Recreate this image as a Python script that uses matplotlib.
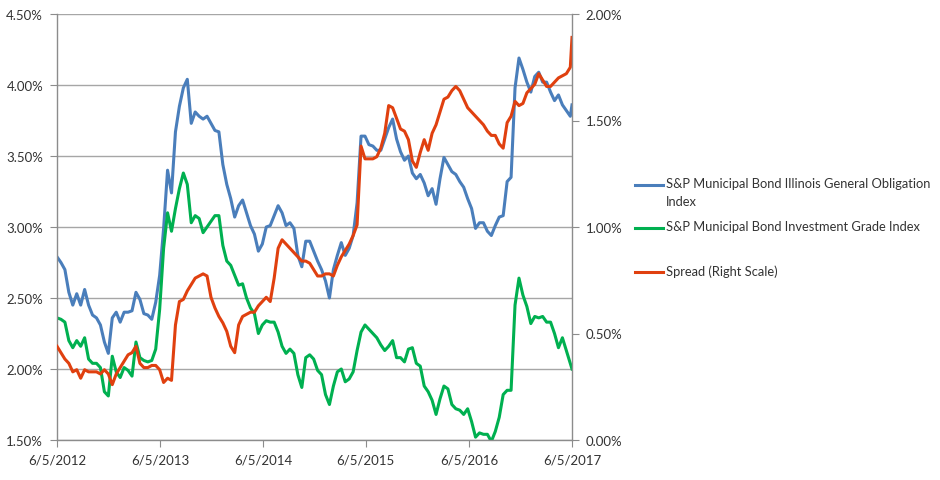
import pandas as pd
import matplotlib
matplotlib.use("Agg")
import matplotlib.pyplot as plt
from matplotlib.lines import Line2D
from matplotlib.ticker import FuncFormatter

plt.rcParams['font.family'] = ['Lato', 'DejaVu Sans']

# readings every two weeks from 6/5/2012, last value on 6/5/2017
start_date = "2012-06-05"
end_date = "2017-06-05"

illinois_go = [
    2.79, 2.75, 2.70, 2.54, 2.45, 2.53, 2.45, 2.56, 2.45, 2.38,
    2.36, 2.31, 2.19, 2.11, 2.36, 2.40, 2.33, 2.40, 2.40, 2.41,
    2.54, 2.49, 2.39, 2.38, 2.35, 2.47, 2.66, 2.99, 3.40, 3.24,
    3.67, 3.85, 3.98, 4.04, 3.73, 3.81, 3.78, 3.76, 3.78, 3.73,
    3.68, 3.67, 3.44, 3.30, 3.20, 3.07, 3.15, 3.19, 3.10, 3.01,
    2.95, 2.83, 2.88, 3.00, 3.01, 3.08, 3.15, 3.10, 3.01, 3.03,
    2.99, 2.80, 2.72, 2.90, 2.90, 2.83, 2.76, 2.70, 2.62, 2.50,
    2.70, 2.80, 2.89, 2.80, 2.85, 2.94, 3.17, 3.64, 3.64, 3.58,
    3.57, 3.54, 3.54, 3.62, 3.70, 3.76, 3.62, 3.53, 3.47, 3.50,
    3.38, 3.34, 3.37, 3.31, 3.22, 3.27, 3.16, 3.34, 3.49, 3.44,
    3.39, 3.37, 3.32, 3.28, 3.20, 3.13, 2.99, 3.03, 3.03, 2.97,
    2.94, 3.01, 3.07, 3.08, 3.32, 3.35, 3.98, 4.19, 4.11, 4.02,
    3.95, 4.06, 4.09, 4.02, 4.02, 3.95, 3.89, 3.93, 3.86, 3.82,
    3.78, 3.86,
]

investment_grade = [
    2.36, 2.35, 2.33, 2.20, 2.15, 2.20, 2.16, 2.22, 2.07, 2.04,
    2.04, 2.01, 1.84, 1.81, 2.09, 1.98, 1.94, 2.01, 1.99, 1.95,
    2.19, 2.08, 2.06, 2.05, 2.06, 2.14, 2.42, 2.85, 3.10, 2.97,
    3.13, 3.27, 3.38, 3.30, 3.03, 3.08, 3.06, 2.96, 3.00, 3.04,
    3.08, 3.08, 2.87, 2.76, 2.73, 2.66, 2.59, 2.60, 2.50, 2.43,
    2.39, 2.25, 2.31, 2.34, 2.33, 2.33, 2.26, 2.16, 2.11, 2.14,
    2.11, 1.96, 1.87, 2.08, 2.10, 2.07, 1.99, 1.96, 1.82, 1.75,
    1.88, 1.98, 2.00, 1.91, 1.93, 1.98, 2.13, 2.26, 2.31, 2.28,
    2.25, 2.22, 2.17, 2.13, 2.16, 2.20, 2.08, 2.08, 2.05, 2.14,
    2.15, 2.04, 2.02, 1.88, 1.84, 1.78, 1.68, 1.79, 1.88, 1.86,
    1.75, 1.72, 1.71, 1.68, 1.72, 1.63, 1.52, 1.55, 1.54, 1.54,
    1.49, 1.56, 1.66, 1.82, 1.85, 1.85, 2.45, 2.64, 2.52, 2.44,
    2.32, 2.37, 2.36, 2.37, 2.33, 2.33, 2.25, 2.15, 2.22, 2.13,
    2.04, 2.00,
]

spread = [
    0.44, 0.41, 0.38, 0.36, 0.32, 0.33, 0.29, 0.33, 0.32, 0.32,
    0.32, 0.31, 0.33, 0.31, 0.26, 0.31, 0.34, 0.37, 0.40, 0.41,
    0.44, 0.36, 0.34, 0.34, 0.35, 0.35, 0.33, 0.27, 0.29, 0.28,
    0.54, 0.65, 0.66, 0.70, 0.73, 0.76, 0.77, 0.78, 0.77, 0.67,
    0.62, 0.58, 0.55, 0.51, 0.44, 0.41, 0.54, 0.58, 0.59, 0.60,
    0.60, 0.63, 0.65, 0.67, 0.65, 0.76, 0.90, 0.94, 0.92, 0.90,
    0.88, 0.86, 0.84, 0.84, 0.83, 0.80, 0.77, 0.77, 0.78, 0.78,
    0.77, 0.82, 0.86, 0.89, 0.92, 0.96, 1.01, 1.38, 1.32, 1.32,
    1.32, 1.33, 1.37, 1.44, 1.57, 1.56, 1.51, 1.46, 1.45, 1.41,
    1.31, 1.28, 1.35, 1.41, 1.36, 1.44, 1.48, 1.54, 1.60, 1.61,
    1.64, 1.66, 1.64, 1.60, 1.56, 1.54, 1.52, 1.50, 1.48, 1.45,
    1.43, 1.43, 1.39, 1.37, 1.49, 1.52, 1.59, 1.57, 1.58, 1.63,
    1.65, 1.67, 1.72, 1.69, 1.66, 1.66, 1.68, 1.70, 1.71, 1.72,
    1.75, 1.89,
]

labels = [
    "S&P Municipal Bond Illinois General Obligation\nIndex",
    "S&P Municipal Bond Investment Grade Index",
    "Spread (Right Scale)",
]
colors = ["#4a7ebb", "#00b050", "#e0400f"]
x_tick_labels = ["6/5/2012", "6/5/2013", "6/5/2014", "6/5/2015", "6/5/2016", "6/5/2017"]

GRAY = "#8c8c8c"
TEXT = "#333333"


def build_dates() -> pd.DatetimeIndex:
    grid = pd.date_range(start_date, periods=len(illinois_go) - 1, freq="14D")
    return grid.append(pd.DatetimeIndex([end_date]))


def plot_chart(dates: pd.DatetimeIndex) -> None:
    fig = plt.figure(figsize=(9.4, 4.81), dpi=100)
    ax = fig.add_axes([57 / 940, 1 - 441 / 481, 515 / 940, 426 / 481])
    ax2 = ax.twinx()

    ax.plot(dates, illinois_go, color=colors[0], lw=2.2, solid_joinstyle="round")
    ax.plot(dates, investment_grade, color=colors[1], lw=2.2, solid_joinstyle="round")
    ax2.plot(dates, spread, color=colors[2], lw=2.2, solid_joinstyle="round")

    ax.set_ylim(1.5, 4.5)
    ax2.set_ylim(0.0, 2.0)
    ax.set_yticks([1.5 + 0.5 * i for i in range(7)])
    ax2.set_yticks([0.5 * i for i in range(5)])
    pct = FuncFormatter(lambda v, _: "{:.2f}%".format(v))
    ax.yaxis.set_major_formatter(pct)
    ax2.yaxis.set_major_formatter(pct)

    tick_dates = pd.to_datetime(x_tick_labels, format="%m/%d/%Y")
    ax.set_xticks(tick_dates)
    ax.set_xticklabels(x_tick_labels)
    ax.set_xlim(pd.Timestamp(start_date), pd.Timestamp(end_date))

    ax.yaxis.grid(True, color="#a6a6a6", lw=1.0)
    ax.set_axisbelow(True)

    for a in (ax, ax2):
        a.spines["top"].set_visible(False)
        for side in ("left", "right", "bottom"):
            a.spines[side].set_color(GRAY)
            a.spines[side].set_linewidth(1.0)
    ax.spines["right"].set_visible(False)
    ax2.spines["left"].set_visible(False)
    ax2.spines["bottom"].set_visible(False)

    ax.tick_params(axis="y", direction="out", length=5, color=GRAY, labelsize=9.5, labelcolor=TEXT, pad=5)
    ax.tick_params(axis="x", direction="out", length=5, color=GRAY, labelsize=9.5, labelcolor=TEXT, pad=5)
    ax2.tick_params(axis="y", direction="out", length=5, color=GRAY, labelsize=9.5, labelcolor=TEXT, pad=5)

    # legend on the right, handle aligned with the first text line
    legend_y = [186, 229, 273]
    for label, color, y in zip(labels, colors, legend_y):
        fy = 1 - y / 481
        fig.add_artist(Line2D([635 / 940, 663 / 940], [fy, fy], transform=fig.transFigure, color=color, lw=2.2))
        fig.text(666 / 940, fy + 8 / 481, label, ha="left", va="top", fontsize=9.3, color=TEXT, linespacing=1.6)

    fig.savefig("out.png", dpi=100)


def main():
    dates = build_dates()
    plot_chart(dates)


main()
